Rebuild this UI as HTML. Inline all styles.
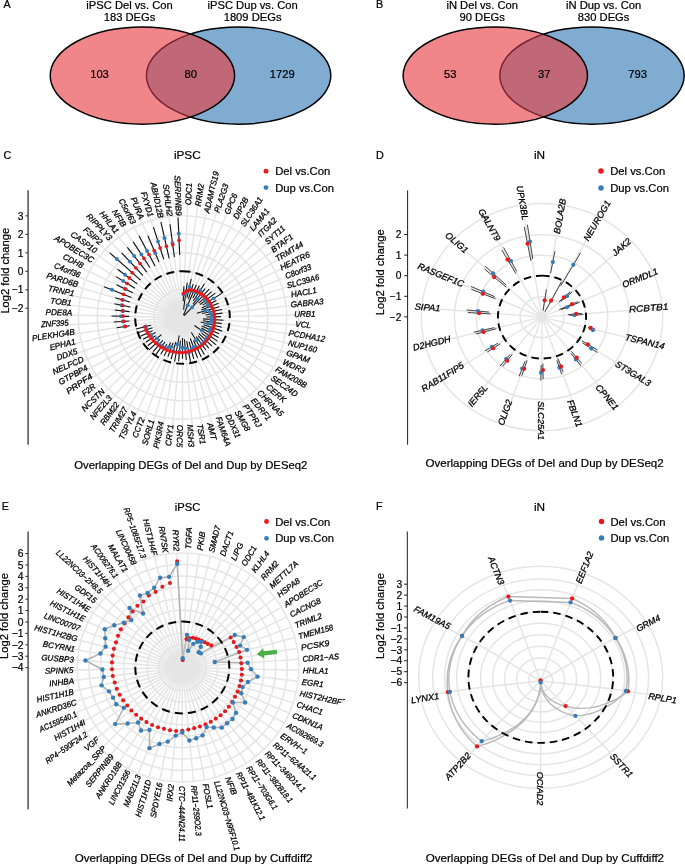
<!DOCTYPE html>
<html><head><meta charset="utf-8"><title>Figure</title>
<style>html,body{margin:0;padding:0;background:#fff}svg{display:block}text{stroke:#000;stroke-width:0.22px;stroke-linejoin:round}text.g{stroke-width:0.28px}</style></head>
<body><svg width="685" height="865" viewBox="0 0 685 865" font-family="Liberation Sans, Arial, Helvetica, sans-serif">
<rect width="685" height="865" fill="#fff"/>
<text x="3.5" y="8" font-size="10.8" text-anchor="start" fill="#000">A</text>
<text x="376" y="8.2" font-size="10.8" text-anchor="start" fill="#000">B</text>
<text x="3.5" y="158.5" font-size="10.8" text-anchor="start" fill="#000">C</text>
<text x="376" y="158.5" font-size="10.8" text-anchor="start" fill="#000">D</text>
<text x="1.8" y="509.6" font-size="10.8" text-anchor="start" fill="#000">E</text>
<text x="376" y="510" font-size="10.8" text-anchor="start" fill="#000">F</text>
<clipPath id="cA"><ellipse cx="142.4" cy="75.6" rx="92.2" ry="48.6"/></clipPath>
<ellipse cx="238.6" cy="75.6" rx="92.2" ry="48.6" fill="#80acd2" stroke="#000" stroke-width="1.45"/>
<ellipse cx="142.4" cy="75.6" rx="92.2" ry="48.6" fill="#f0868a"/>
<ellipse cx="238.6" cy="75.6" rx="92.2" ry="48.6" fill="#c16878" stroke="#7d2230" stroke-width="1.45" clip-path="url(#cA)"/>
<ellipse cx="142.4" cy="75.6" rx="92.2" ry="48.6" fill="none" stroke="#000" stroke-width="1.45"/>
<text x="129.5" y="8.9" font-size="11.2" text-anchor="middle" fill="#000">iPSC Del vs. Con</text>
<text x="129.5" y="20.5" font-size="11.2" text-anchor="middle" fill="#000">183 DEGs</text>
<text x="252.6" y="8.9" font-size="11.2" text-anchor="middle" fill="#000">iPSC Dup vs. Con</text>
<text x="252.6" y="20.5" font-size="11.2" text-anchor="middle" fill="#000">1809 DEGs</text>
<text x="99.5" y="77.9" font-size="11.2" text-anchor="middle" fill="#000">103</text>
<text x="190.7" y="77.9" font-size="11.2" text-anchor="middle" fill="#000">80</text>
<text x="282.2" y="77.9" font-size="11.2" text-anchor="middle" fill="#000">1729</text>
<clipPath id="cB"><ellipse cx="495.3" cy="75.6" rx="92.2" ry="48.6"/></clipPath>
<ellipse cx="592" cy="75.6" rx="92.2" ry="48.6" fill="#80acd2" stroke="#000" stroke-width="1.45"/>
<ellipse cx="495.3" cy="75.6" rx="92.2" ry="48.6" fill="#f0868a"/>
<ellipse cx="592" cy="75.6" rx="92.2" ry="48.6" fill="#c16878" stroke="#7d2230" stroke-width="1.45" clip-path="url(#cB)"/>
<ellipse cx="495.3" cy="75.6" rx="92.2" ry="48.6" fill="none" stroke="#000" stroke-width="1.45"/>
<text x="482.2" y="8.9" font-size="11.2" text-anchor="middle" fill="#000">iN Del vs. Con</text>
<text x="482.2" y="20.5" font-size="11.2" text-anchor="middle" fill="#000">90 DEGs</text>
<text x="603.6" y="8.9" font-size="11.2" text-anchor="middle" fill="#000">iN Dup vs. Con</text>
<text x="603.6" y="20.5" font-size="11.2" text-anchor="middle" fill="#000">830 DEGs</text>
<text x="450.2" y="77.9" font-size="11.2" text-anchor="middle" fill="#000">53</text>
<text x="544.3" y="77.9" font-size="11.2" text-anchor="middle" fill="#000">37</text>
<text x="637.6" y="77.9" font-size="11.2" text-anchor="middle" fill="#000">793</text>
<g fill="none" stroke="#e5e5e5">
<path d="M182.5 317.5L187.64 203.11M182.5 317.5L197.88 204.01M182.5 317.5L208 205.79M182.5 317.5L217.92 208.45M182.5 317.5L227.57 211.96M182.5 317.5L236.86 216.3M182.5 317.5L245.72 221.43M182.5 317.5L254.1 227.31M182.5 317.5L261.91 233.89M182.5 317.5L269.1 241.14M182.5 317.5L275.61 248.97M182.5 317.5L281.39 257.35M182.5 317.5L286.4 266.2M182.5 317.5L290.59 275.44M182.5 317.5L293.94 285.02M182.5 317.5L296.42 294.85M182.5 317.5L298.01 304.86M182.5 317.5L298.69 314.97M182.5 317.5L298.46 325.09M182.5 317.5L297.33 335.16M182.5 317.5L295.29 345.09M182.5 317.5L292.38 354.8M182.5 317.5L288.6 364.23M182.5 317.5L283.99 373.28M182.5 317.5L278.59 381.9M182.5 317.5L272.44 390.02M182.5 317.5L265.58 397.56M182.5 317.5L258.07 404.48M182.5 317.5L249.98 410.72M182.5 317.5L241.35 416.24M182.5 317.5L232.26 420.97M182.5 317.5L222.79 424.9M182.5 317.5L212.99 427.99M182.5 317.5L202.96 430.21M182.5 317.5L192.77 431.55M182.5 317.5L182.5 432M182.5 317.5L172.23 431.55M182.5 317.5L162.04 430.21M182.5 317.5L152.01 427.99M182.5 317.5L142.21 424.9M182.5 317.5L132.74 420.97M182.5 317.5L123.65 416.24M182.5 317.5L115.02 410.72M182.5 317.5L106.93 404.48M182.5 317.5L99.42 397.56M182.5 317.5L92.56 390.02M182.5 317.5L86.41 381.9M182.5 317.5L81.01 373.28M182.5 317.5L76.4 364.23M182.5 317.5L72.62 354.8M182.5 317.5L69.71 345.09M182.5 317.5L67.67 335.16M182.5 317.5L66.54 325.09M182.5 317.5L66.31 314.97M182.5 317.5L66.99 304.86M182.5 317.5L68.58 294.85M182.5 317.5L71.06 285.02M182.5 317.5L74.41 275.44M182.5 317.5L78.6 266.2M182.5 317.5L83.61 257.35M182.5 317.5L89.39 248.97M182.5 317.5L95.9 241.14M182.5 317.5L103.09 233.89M182.5 317.5L110.9 227.31M182.5 317.5L119.28 221.43M182.5 317.5L128.14 216.3M182.5 317.5L137.43 211.96M182.5 317.5L147.08 208.45M182.5 317.5L157 205.79M182.5 317.5L167.12 204.01M182.5 317.5L177.36 203.11" stroke-width="1.45"/>
<ellipse cx="182.5" cy="317.5" rx="9.63" ry="9.4" stroke-width="1.5"/>
<ellipse cx="182.5" cy="317.5" rx="28.55" ry="27.85" stroke-width="1.5"/>
<ellipse cx="182.5" cy="317.5" rx="47.46" ry="46.3" stroke-width="1.5"/>
<ellipse cx="182.5" cy="317.5" rx="66.37" ry="64.75" stroke-width="1.5"/>
<ellipse cx="182.5" cy="317.5" rx="85.28" ry="83.2" stroke-width="1.5"/>
<ellipse cx="182.5" cy="317.5" rx="104.19" ry="101.65" stroke-width="1.5"/>
<ellipse cx="182.5" cy="317.5" rx="116.22" ry="114.5" stroke-width="1.5"/>
</g>
<path d="M183.22 301.27L183.89 286.24M183.56 309.57L187.17 282.71M186.99 297.62L191.22 278.92M188.39 299.2L193.22 284.18M183.47 315.2L196.32 284.82M192.89 297.96L199.35 285.82M193.26 300.98L204.48 283.77M192.89 304.28L205.14 288.69M184.22 315.67L209.18 289.13M198.69 303.08L211.64 291.55M200.03 304.47L215.25 293.15M202.6 305.15L221.78 293.37M201.74 307.91L216.37 300.61M201.4 310.07L218.52 303.35M196.85 313.28L219.31 306.66M202.04 313.58L222.11 309.55M205.36 314.97L222.47 313.08M206.58 316.97L220.92 316.65M202.92 318.85L223.49 320.21M202.93 320.67L221.79 323.6M200.64 321.98L221.79 327.21M203.52 324.71L222.22 331.12M201.7 326.04L218.97 333.72M201.42 328L218.51 337.49M194.38 325.54L217.41 341.13M201.72 333.15L216.07 344.84M198.75 333.31L212.01 346.22M198.16 335.7L208.76 348.03M196.16 336.56L205.79 350M191.35 332.5L204.38 354.57M193.49 340.58L201.27 356.91M190.28 338.44L197.5 357.9M189.14 341.8L193.78 358.79M186.73 341.05L190.49 361.95M184.43 339.19L186.29 360.05M182.5 337.99L182.5 358.74M180.44 340.64L178.61 361.12M179.26 335.51L174.59 361.49M175.84 341.87L171.12 359.13M173.07 342.9L167.91 356.79M170.55 342.6L164.22 355.88M166.87 343.99L160.76 354.34M165.01 341.91L155.73 354.86M162.86 340.33L153.22 351.53M159.96 339.44L149.18 349.92M161.5 334.6L147.76 345.79M155.52 335.76L145.82 342.33M155.53 332.47L143.19 339.32M152.57 330.81L141.01 335.95M152.47 327.8L138.83 332.47M151.04 325.27L136.11 328.96M129.87 325.68L116.76 327.71M129.35 321.02L113.79 322.04M129.25 316.33L111.52 315.94M129.56 311.65L114.74 310.01M130.29 307.02L114.43 303.83M129.86 302L115.18 297.69M131.39 297.42L104.11 286.7M132.69 292.66L116.64 284.65M134.97 288.3L116 276.65M137.25 283.86L117.61 269.27M140.62 280.2L109.85 252.8M142.8 275.28L121.67 252.82M146.86 272.16L127.36 247.35M149.94 267.53L133.22 241.87M155.07 265.92L138.98 235.66M158.99 261.91L147.9 235.67M163.78 259.29L153.44 227.13M169.15 258.44L160.95 222.15M174.4 257.15L169.98 224.23M179.72 254.91L178.05 217.41" stroke="#111" stroke-width="1.1" fill="none"/>
<ellipse cx="182.5" cy="317.5" rx="46.3" ry="47.3" fill="none" stroke="#000" stroke-width="2.0" stroke-dasharray="8 5.2" transform="rotate(-90 182.5 317.5)"/>
<g fill="#377eb8"><circle cx="183.52" cy="294.52" r="1.95"/><circle cx="185.69" cy="293.71" r="1.95"/><circle cx="189.42" cy="286.87" r="1.95"/><circle cx="191" cy="291.07" r="1.95"/><circle cx="187.72" cy="305.15" r="1.95"/><circle cx="195.93" cy="292.26" r="1.95"/><circle cx="200.27" cy="290.23" r="1.95"/><circle cx="197.3" cy="298.67" r="1.95"/><circle cx="191.98" cy="307.42" r="1.95"/><circle cx="204.67" cy="297.76" r="1.95"/><circle cx="205.04" cy="300.74" r="1.95"/><circle cx="213.71" cy="298.33" r="1.95"/><circle cx="207.66" cy="304.95" r="1.95"/><circle cx="210.82" cy="306.37" r="1.95"/><circle cx="205.44" cy="310.75" r="1.95"/><circle cx="209.79" cy="312.02" r="1.95"/><circle cx="211.67" cy="314.28" r="1.95"/><circle cx="213.65" cy="316.81" r="1.95"/><circle cx="211.08" cy="319.39" r="1.95"/><circle cx="211.79" cy="322.05" r="1.95"/><circle cx="207.96" cy="323.79" r="1.95"/><circle cx="212.55" cy="327.8" r="1.95"/><circle cx="209.84" cy="329.66" r="1.95"/><circle cx="210.53" cy="333.06" r="1.95"/><circle cx="201.86" cy="330.61" r="1.95"/><circle cx="206.84" cy="337.32" r="1.95"/><circle cx="205.78" cy="340.16" r="1.95"/><circle cx="203.67" cy="342.11" r="1.95"/><circle cx="201.61" cy="344.17" r="1.95"/><circle cx="195.94" cy="340.27" r="1.95"/><circle cx="196.75" cy="347.42" r="1.95"/><circle cx="193.4" cy="346.86" r="1.95"/><circle cx="191.32" cy="349.79" r="1.95"/><circle cx="188.83" cy="352.74" r="1.95"/><circle cx="185.26" cy="348.48" r="1.95"/><circle cx="182.5" cy="347.5" r="1.95"/><circle cx="179.46" cy="351.57" r="1.95"/><circle cx="177.67" cy="344.37" r="1.95"/><circle cx="173.38" cy="350.89" r="1.95"/><circle cx="171.7" cy="346.58" r="1.95"/><circle cx="168.21" cy="347.5" r="1.95"/><circle cx="164.59" cy="347.85" r="1.95"/><circle cx="162.31" cy="345.67" r="1.95"/><circle cx="159.23" cy="344.54" r="1.95"/><circle cx="156.7" cy="342.61" r="1.95"/><circle cx="156.91" cy="338.34" r="1.95"/><circle cx="152.13" cy="338.05" r="1.95"/><circle cx="151.17" cy="334.89" r="1.95"/><circle cx="148.39" cy="332.67" r="1.95"/><circle cx="146.88" cy="329.71" r="1.95"/><circle cx="146.12" cy="326.49" r="1.95"/><circle cx="124.41" cy="326.52" r="1.95"/><circle cx="122.83" cy="321.45" r="1.95"/><circle cx="120.91" cy="316.14" r="1.95"/><circle cx="123.07" cy="310.93" r="1.95"/><circle cx="121.42" cy="305.24" r="1.95"/><circle cx="122.75" cy="299.91" r="1.95"/><circle cx="111.93" cy="289.77" r="1.95"/><circle cx="125.9" cy="289.27" r="1.95"/><circle cx="123.15" cy="281.04" r="1.95"/><circle cx="125.01" cy="274.77" r="1.95"/><circle cx="116.83" cy="259.01" r="1.95"/><circle cx="129.97" cy="261.64" r="1.95"/><circle cx="134.21" cy="256.06" r="1.95"/><circle cx="141.39" cy="254.4" r="1.95"/><circle cx="147.1" cy="250.94" r="1.95"/><circle cx="155.3" cy="253.16" r="1.95"/><circle cx="158.05" cy="241.5" r="1.95"/><circle cx="164.59" cy="238.28" r="1.95"/><circle cx="172.5" cy="242.96" r="1.95"/><circle cx="178.76" cy="233.48" r="1.95"/></g>
<g fill="#e41a1c"><circle cx="183.57" cy="293.52" r="1.85"/><circle cx="186.02" cy="291.23" r="1.85"/><circle cx="188.72" cy="289.99" r="1.85"/><circle cx="191.31" cy="290.12" r="1.85"/><circle cx="193.92" cy="290.49" r="1.85"/><circle cx="196.4" cy="291.37" r="1.85"/><circle cx="198.8" cy="292.48" r="1.85"/><circle cx="201.12" cy="293.81" r="1.85"/><circle cx="203.33" cy="295.35" r="1.85"/><circle cx="205.41" cy="297.09" r="1.85"/><circle cx="207.28" cy="299.08" r="1.85"/><circle cx="208.97" cy="301.24" r="1.85"/><circle cx="210.46" cy="303.55" r="1.85"/><circle cx="211.76" cy="306" r="1.85"/><circle cx="212.83" cy="308.57" r="1.85"/><circle cx="213.68" cy="311.24" r="1.85"/><circle cx="214.29" cy="313.99" r="1.85"/><circle cx="214.65" cy="316.79" r="1.85"/><circle cx="214.75" cy="319.63" r="1.85"/><circle cx="214.58" cy="322.48" r="1.85"/><circle cx="214.17" cy="325.32" r="1.85"/><circle cx="213.5" cy="328.13" r="1.85"/><circle cx="212.57" cy="330.88" r="1.85"/><circle cx="211.4" cy="333.54" r="1.85"/><circle cx="210" cy="336.11" r="1.85"/><circle cx="208.36" cy="338.55" r="1.85"/><circle cx="206.5" cy="340.85" r="1.85"/><circle cx="204.44" cy="343.01" r="1.85"/><circle cx="202.2" cy="344.98" r="1.85"/><circle cx="199.77" cy="346.76" r="1.85"/><circle cx="197.18" cy="348.33" r="1.85"/><circle cx="194.45" cy="349.66" r="1.85"/><circle cx="191.59" cy="350.76" r="1.85"/><circle cx="188.63" cy="351.6" r="1.85"/><circle cx="185.59" cy="352.19" r="1.85"/><circle cx="182.5" cy="352.5" r="1.85"/><circle cx="179.37" cy="352.56" r="1.85"/><circle cx="176.24" cy="352.35" r="1.85"/><circle cx="173.11" cy="351.85" r="1.85"/><circle cx="170.03" cy="351.08" r="1.85"/><circle cx="167.01" cy="350.03" r="1.85"/><circle cx="164.08" cy="348.72" r="1.85"/><circle cx="161.26" cy="347.14" r="1.85"/><circle cx="158.58" cy="345.3" r="1.85"/><circle cx="155.98" cy="343.31" r="1.85"/><circle cx="153.55" cy="341.08" r="1.85"/><circle cx="151.3" cy="338.62" r="1.85"/><circle cx="149.27" cy="335.94" r="1.85"/><circle cx="147.48" cy="333.08" r="1.85"/><circle cx="145.93" cy="330.04" r="1.85"/><circle cx="144.66" cy="326.85" r="1.85"/><circle cx="125.5" cy="326.35" r="1.85"/><circle cx="123.94" cy="321.37" r="1.85"/><circle cx="123.02" cy="316.19" r="1.85"/><circle cx="122.57" cy="310.88" r="1.85"/><circle cx="122.6" cy="305.47" r="1.85"/><circle cx="122.27" cy="299.77" r="1.85"/><circle cx="123.52" cy="294.32" r="1.85"/><circle cx="125" cy="288.82" r="1.85"/><circle cx="127.17" cy="283.51" r="1.85"/><circle cx="129.28" cy="277.94" r="1.85"/><circle cx="132.18" cy="272.68" r="1.85"/><circle cx="135.81" cy="267.85" r="1.85"/><circle cx="140.09" cy="263.54" r="1.85"/><circle cx="144.01" cy="258.43" r="1.85"/><circle cx="148.98" cy="254.48" r="1.85"/><circle cx="154.21" cy="250.58" r="1.85"/><circle cx="160.14" cy="247.97" r="1.85"/><circle cx="166.38" cy="246.18" r="1.85"/><circle cx="172.71" cy="244.55" r="1.85"/><circle cx="179.06" cy="240.28" r="1.85"/></g>
<text class="g" transform="translate(188.59,194.07) rotate(-87.15)" y="2.91" font-size="8.3" font-style="italic" text-anchor="middle" textLength="22.32" lengthAdjust="spacingAndGlyphs">ODC1</text>
<text class="g" transform="translate(199.46,194.97) rotate(-82.06)" y="2.91" font-size="8.3" font-style="italic" text-anchor="middle" textLength="22.78" lengthAdjust="spacingAndGlyphs">RRM2</text>
<text class="g" transform="translate(211.29,192.17) rotate(-76.96)" y="2.91" font-size="8.3" font-style="italic" text-anchor="middle" textLength="42.34" lengthAdjust="spacingAndGlyphs">ADAMTS19</text>
<text class="g" transform="translate(221.24,198.13) rotate(-71.86)" y="2.91" font-size="8.3" font-style="italic" text-anchor="middle" textLength="29.9" lengthAdjust="spacingAndGlyphs">PLA2G3</text>
<text class="g" transform="translate(230.81,203.84) rotate(-66.77)" y="2.91" font-size="8.3" font-style="italic" text-anchor="middle" textLength="21.86" lengthAdjust="spacingAndGlyphs">GPC6</text>
<text class="g" transform="translate(240.77,208.21) rotate(-61.67)" y="2.91" font-size="8.3" font-style="italic" text-anchor="middle" textLength="23.25" lengthAdjust="spacingAndGlyphs">DIP2B</text>
<text class="g" transform="translate(251.53,211.65) rotate(-56.58)" y="2.91" font-size="8.3" font-style="italic" text-anchor="middle" textLength="33.32" lengthAdjust="spacingAndGlyphs">SLC36A1</text>
<text class="g" transform="translate(259.49,219.45) rotate(-51.48)" y="2.91" font-size="8.3" font-style="italic" text-anchor="middle" textLength="26.48" lengthAdjust="spacingAndGlyphs">LAMA1</text>
<text class="g" transform="translate(267.22,227.17) rotate(-46.39)" y="2.91" font-size="8.3" font-style="italic" text-anchor="middle" textLength="23.25" lengthAdjust="spacingAndGlyphs">ITGA2</text>
<text class="g" transform="translate(274.9,234.84) rotate(-41.29)" y="2.91" font-size="8.3" font-style="italic" text-anchor="middle" textLength="23.9" lengthAdjust="spacingAndGlyphs">SYT11</text>
<text class="g" transform="translate(281.98,243.09) rotate(-36.19)" y="2.91" font-size="8.3" font-style="italic" text-anchor="middle">BTAF1</text>
<text class="g" transform="translate(289.28,251.37) rotate(-31.1)" y="2.91" font-size="8.3" font-style="italic" text-anchor="middle" textLength="30.8" lengthAdjust="spacingAndGlyphs">TRMT44</text>
<text class="g" transform="translate(294.85,260.85) rotate(-26)" y="2.91" font-size="8.3" font-style="italic" text-anchor="middle">HEATR6</text>
<text class="g" transform="translate(298.18,271.35) rotate(-20.91)" y="2.91" font-size="8.3" font-style="italic" text-anchor="middle" textLength="27.31" lengthAdjust="spacingAndGlyphs">C8orf33</text>
<text class="g" transform="translate(303.09,281.26) rotate(-15.81)" y="2.91" font-size="8.3" font-style="italic" text-anchor="middle" textLength="33.32" lengthAdjust="spacingAndGlyphs">SLC39A6</text>
<text class="g" transform="translate(303.85,292.32) rotate(-10.72)" y="2.91" font-size="8.3" font-style="italic" text-anchor="middle" textLength="26.02" lengthAdjust="spacingAndGlyphs">HACL1</text>
<text class="g" transform="translate(307.13,302.88) rotate(-5.62)" y="2.91" font-size="8.3" font-style="italic" text-anchor="middle" textLength="32.94" lengthAdjust="spacingAndGlyphs">GABRA3</text>
<text class="g" transform="translate(304.85,313.89) rotate(-0.52)" y="2.91" font-size="8.3" font-style="italic" text-anchor="middle" textLength="21.4" lengthAdjust="spacingAndGlyphs">URB1</text>
<text class="g" transform="translate(303.15,324.53) rotate(4.57)" y="2.91" font-size="8.3" font-style="italic" text-anchor="middle">VCL</text>
<text class="g" transform="translate(306.91,335.94) rotate(9.67)" y="2.91" font-size="8.3" font-style="italic" text-anchor="middle" textLength="36.81" lengthAdjust="spacingAndGlyphs">PCDHA12</text>
<text class="g" transform="translate(302.69,346.29) rotate(14.76)" y="2.91" font-size="8.3" font-style="italic" text-anchor="middle" textLength="29.16" lengthAdjust="spacingAndGlyphs">NUP160</text>
<text class="g" transform="translate(298.29,356.31) rotate(19.86)" y="2.91" font-size="8.3" font-style="italic" text-anchor="middle" textLength="24.44" lengthAdjust="spacingAndGlyphs">GPAM</text>
<text class="g" transform="translate(293.95,366.23) rotate(24.95)" y="2.91" font-size="8.3" font-style="italic" text-anchor="middle" textLength="23.7" lengthAdjust="spacingAndGlyphs">WDR3</text>
<text class="g" transform="translate(291.28,377.18) rotate(30.05)" y="2.91" font-size="8.3" font-style="italic" text-anchor="middle" textLength="34.69" lengthAdjust="spacingAndGlyphs">FAM208B</text>
<text class="g" transform="translate(284.47,385.92) rotate(35.15)" y="2.91" font-size="8.3" font-style="italic" text-anchor="middle" textLength="30.82" lengthAdjust="spacingAndGlyphs">SEC24D</text>
<text class="g" transform="translate(276.21,393.34) rotate(40.24)" y="2.91" font-size="8.3" font-style="italic" text-anchor="middle">CERK</text>
<text class="g" transform="translate(270.61,403.09) rotate(45.34)" y="2.91" font-size="8.3" font-style="italic" text-anchor="middle" textLength="33.39" lengthAdjust="spacingAndGlyphs">CHRNA5</text>
<text class="g" transform="translate(261.24,409.14) rotate(50.43)" y="2.91" font-size="8.3" font-style="italic" text-anchor="middle" textLength="26.47" lengthAdjust="spacingAndGlyphs">EDRF1</text>
<text class="g" transform="translate(252.44,415.64) rotate(55.53)" y="2.91" font-size="8.3" font-style="italic" text-anchor="middle">PTPRJ</text>
<text class="g" transform="translate(242.68,420.61) rotate(60.63)" y="2.91" font-size="8.3" font-style="italic" text-anchor="middle" textLength="22.78" lengthAdjust="spacingAndGlyphs">SMG8</text>
<text class="g" transform="translate(233.21,426.05) rotate(65.72)" y="2.91" font-size="8.3" font-style="italic" text-anchor="middle" textLength="25.28" lengthAdjust="spacingAndGlyphs">DDX31</text>
<text class="g" transform="translate(223.48,431.36) rotate(70.82)" y="2.91" font-size="8.3" font-style="italic" text-anchor="middle" textLength="30.81" lengthAdjust="spacingAndGlyphs">FAM64A</text>
<text class="g" transform="translate(212.04,431.27) rotate(75.91)" y="2.91" font-size="8.3" font-style="italic" text-anchor="middle">AMT</text>
<text class="g" transform="translate(201.59,434.14) rotate(81.01)" y="2.91" font-size="8.3" font-style="italic" text-anchor="middle" textLength="20.48" lengthAdjust="spacingAndGlyphs">TSR1</text>
<text class="g" transform="translate(190.83,435.8) rotate(86.1)" y="2.91" font-size="8.3" font-style="italic" text-anchor="middle" textLength="22.32" lengthAdjust="spacingAndGlyphs">MSH3</text>
<text class="g" transform="translate(179.93,436.05) rotate(91.2)" y="2.91" font-size="8.3" font-style="italic" text-anchor="middle" textLength="22.32" lengthAdjust="spacingAndGlyphs">ORC5</text>
<text class="g" transform="translate(169.29,435.14) rotate(-83.8)" y="2.91" font-size="8.3" font-style="italic" text-anchor="middle">CRY1</text>
<text class="g" transform="translate(158.47,434.95) rotate(-78.8)" y="2.91" font-size="8.3" font-style="italic" text-anchor="middle" textLength="27.13" lengthAdjust="spacingAndGlyphs">PIK3R4</text>
<text class="g" transform="translate(148.02,432.27) rotate(-73.81)" y="2.91" font-size="8.3" font-style="italic" text-anchor="middle" textLength="26.48" lengthAdjust="spacingAndGlyphs">SORL1</text>
<text class="g" transform="translate(138.31,427.57) rotate(-68.81)" y="2.91" font-size="8.3" font-style="italic" text-anchor="middle" textLength="20.94" lengthAdjust="spacingAndGlyphs">CCT2</text>
<text class="g" transform="translate(127.53,425.41) rotate(-63.81)" y="2.91" font-size="8.3" font-style="italic" text-anchor="middle" textLength="30.17" lengthAdjust="spacingAndGlyphs">TSPYL4</text>
<text class="g" transform="translate(118.28,419.8) rotate(-58.81)" y="2.91" font-size="8.3" font-style="italic" text-anchor="middle" textLength="28.04" lengthAdjust="spacingAndGlyphs">TRIM27</text>
<text class="g" transform="translate(109.56,413.51) rotate(-53.82)" y="2.91" font-size="8.3" font-style="italic" text-anchor="middle" textLength="26.2" lengthAdjust="spacingAndGlyphs">RBM22</text>
<text class="g" transform="translate(100.74,407.42) rotate(-48.85)" y="2.91" font-size="8.3" font-style="italic" text-anchor="middle" textLength="28.97" lengthAdjust="spacingAndGlyphs">NFE2L3</text>
<text class="g" transform="translate(93.01,400.01) rotate(-43.88)" y="2.91" font-size="8.3" font-style="italic" text-anchor="middle">NCSTN</text>
<text class="g" transform="translate(88.55,389.89) rotate(-38.91)" y="2.91" font-size="8.3" font-style="italic" text-anchor="middle" textLength="14.94" lengthAdjust="spacingAndGlyphs">F2R</text>
<text class="g" transform="translate(79.21,383.68) rotate(-33.94)" y="2.91" font-size="8.3" font-style="italic" text-anchor="middle" textLength="30" lengthAdjust="spacingAndGlyphs">PRPF4</text>
<text class="g" transform="translate(73.14,374.82) rotate(-28.97)" y="2.91" font-size="8.3" font-style="italic" text-anchor="middle" textLength="32.01" lengthAdjust="spacingAndGlyphs">GTPBP4</text>
<text class="g" transform="translate(68.03,365.36) rotate(-24)" y="2.91" font-size="8.3" font-style="italic" text-anchor="middle">NELFCD</text>
<text class="g" transform="translate(66.83,354.37) rotate(-19.01)" y="2.91" font-size="8.3" font-style="italic" text-anchor="middle" textLength="21.4" lengthAdjust="spacingAndGlyphs">DDX5</text>
<text class="g" transform="translate(62.52,344.43) rotate(-13.94)" y="2.91" font-size="8.3" font-style="italic" text-anchor="middle" textLength="26.48" lengthAdjust="spacingAndGlyphs">EPHA1</text>
<text class="g" transform="translate(53.29,334.94) rotate(-8.87)" y="2.91" font-size="8.3" font-style="italic" text-anchor="middle" textLength="43.09" lengthAdjust="spacingAndGlyphs">PLEKHG4B</text>
<text class="g" transform="translate(54.84,323.39) rotate(-3.8)" y="2.91" font-size="8.3" font-style="italic" text-anchor="middle" textLength="27.77" lengthAdjust="spacingAndGlyphs">ZNF395</text>
<text class="g" transform="translate(58.91,312.3) rotate(1.27)" y="2.91" font-size="8.3" font-style="italic" text-anchor="middle" textLength="26.48" lengthAdjust="spacingAndGlyphs">PDE8A</text>
<text class="g" transform="translate(61.01,301.67) rotate(6.34)" y="2.91" font-size="8.3" font-style="italic" text-anchor="middle">TOB1</text>
<text class="g" transform="translate(61.32,290.84) rotate(11.41)" y="2.91" font-size="8.3" font-style="italic" text-anchor="middle" textLength="26.47" lengthAdjust="spacingAndGlyphs">TRNP1</text>
<text class="g" transform="translate(62.52,279.93) rotate(16.48)" y="2.91" font-size="8.3" font-style="italic" text-anchor="middle">PARD6B</text>
<text class="g" transform="translate(67.33,270.07) rotate(21.55)" y="2.91" font-size="8.3" font-style="italic" text-anchor="middle" textLength="27.31" lengthAdjust="spacingAndGlyphs">C4orf36</text>
<text class="g" transform="translate(73.21,260.9) rotate(26.62)" y="2.91" font-size="8.3" font-style="italic" text-anchor="middle" textLength="21.86" lengthAdjust="spacingAndGlyphs">CDH8</text>
<text class="g" transform="translate(74.26,248.93) rotate(31.7)" y="2.91" font-size="8.3" font-style="italic" text-anchor="middle" textLength="44.47" lengthAdjust="spacingAndGlyphs">APOBEC3C</text>
<text class="g" transform="translate(84.01,242.19) rotate(36.81)" y="2.91" font-size="8.3" font-style="italic" text-anchor="middle" textLength="30.36" lengthAdjust="spacingAndGlyphs">CASP10</text>
<text class="g" transform="translate(93.05,235.69) rotate(41.92)" y="2.91" font-size="8.3" font-style="italic" text-anchor="middle" textLength="22.33" lengthAdjust="spacingAndGlyphs">FSIP2</text>
<text class="g" transform="translate(99.36,226.85) rotate(47.03)" y="2.91" font-size="8.3" font-style="italic" text-anchor="middle">RIPPLY3</text>
<text class="g" transform="translate(109.39,222.15) rotate(52.14)" y="2.91" font-size="8.3" font-style="italic" text-anchor="middle" textLength="26.02" lengthAdjust="spacingAndGlyphs">HHLA1</text>
<text class="g" transform="translate(119.38,218.15) rotate(57.25)" y="2.91" font-size="8.3" font-style="italic" text-anchor="middle">NFIB</text>
<text class="g" transform="translate(127.47,211.28) rotate(62.35)" y="2.91" font-size="8.3" font-style="italic" text-anchor="middle" textLength="27.31" lengthAdjust="spacingAndGlyphs">C5orf63</text>
<text class="g" transform="translate(137.52,207.99) rotate(67.46)" y="2.91" font-size="8.3" font-style="italic" text-anchor="middle">PURA</text>
<text class="g" transform="translate(147.31,204.29) rotate(72.58)" y="2.91" font-size="8.3" font-style="italic" text-anchor="middle" textLength="26.01" lengthAdjust="spacingAndGlyphs">FXYD1</text>
<text class="g" transform="translate(157.13,200.14) rotate(77.7)" y="2.91" font-size="8.3" font-style="italic" text-anchor="middle" textLength="36.35" lengthAdjust="spacingAndGlyphs">ABHD12B</text>
<text class="g" transform="translate(167.84,200.13) rotate(82.82)" y="2.91" font-size="8.3" font-style="italic" text-anchor="middle" textLength="32.47" lengthAdjust="spacingAndGlyphs">SOHLH2</text>
<text class="g" transform="translate(178.15,195.5) rotate(87.94)" y="2.91" font-size="8.3" font-style="italic" text-anchor="middle" textLength="40.32" lengthAdjust="spacingAndGlyphs">SERPINB9</text>
<path d="M28.1 190.3V444.7" stroke="#333" stroke-width="1.3" fill="none"/>
<path d="M25.3 215.89H28.1M25.3 234.36H28.1M25.3 252.83H28.1M25.3 271.3H28.1M25.3 289.77H28.1M25.3 308.24H28.1" stroke="#333" stroke-width="1.0" fill="none"/>
<text x="23.5" y="219.56" font-size="10.2" text-anchor="end" fill="#000">3</text>
<text x="23.5" y="238.03" font-size="10.2" text-anchor="end" fill="#000">2</text>
<text x="23.5" y="256.5" font-size="10.2" text-anchor="end" fill="#000">1</text>
<text x="23.5" y="274.97" font-size="10.2" text-anchor="end" fill="#000">0</text>
<text x="23.5" y="293.44" font-size="10.2" text-anchor="end" fill="#000">−1</text>
<text x="23.5" y="311.91" font-size="10.2" text-anchor="end" fill="#000">−2</text>
<text x="0" y="0" font-size="11.2" text-anchor="middle" transform="translate(8.8,270.7) rotate(-90)" fill="#000">Log2 fold change</text>
<text x="187.3" y="159.3" font-size="11.75" text-anchor="middle" fill="#000">iPSC</text>
<circle cx="266" cy="171.2" r="2.45" fill="#e41a1c"/>
<circle cx="266" cy="187.6" r="2.45" fill="#377eb8"/>
<text x="275.2" y="175.2" font-size="11.25" text-anchor="start" fill="#000">Del vs.Con</text>
<text x="275.2" y="191.6" font-size="11.25" text-anchor="start" fill="#000">Dup vs.Con</text>
<text x="190.8" y="469.4" font-size="11.3" text-anchor="middle" fill="#000">Overlapping DEGs of Del and Dup by DESeq2</text>
<g fill="none" stroke="#e5e5e5">
<path d="M542 317.1L561.88 205.05M542 317.1L599.47 217.19M542 317.1L630.84 240.16M542 317.1L652.59 271.47M542 317.1L662.34 307.72M542 317.1L659.06 344.99M542 317.1L643.09 379.23M542 317.1L616.17 406.75M542 317.1L581.21 424.54M542 317.1L542 430.7M542 317.1L502.79 424.54M542 317.1L467.83 406.75M542 317.1L440.91 379.23M542 317.1L424.94 344.99M542 317.1L421.66 307.72M542 317.1L431.41 271.47M542 317.1L453.16 240.16M542 317.1L484.53 217.19M542 317.1L522.12 205.05" stroke-width="1.45"/>
<ellipse cx="542" cy="317.1" rx="21.9" ry="20.6" stroke-width="1.5"/>
<ellipse cx="542" cy="317.1" rx="43.8" ry="41.2" stroke-width="1.5"/>
<ellipse cx="542" cy="317.1" rx="65.69" ry="61.8" stroke-width="1.5"/>
<ellipse cx="542" cy="317.1" rx="87.59" ry="82.4" stroke-width="1.5"/>
<ellipse cx="542" cy="317.1" rx="120.76" ry="113.6" stroke-width="1.5"/>
</g>
<path d="M543.02 310.67L546.39 289.41M550.6 273.34L554.95 251.22M544.94 311.77L561.58 281.59M560.8 285.74L580.64 252.64M558.93 301.92L570.08 291.91M560.67 301.49L572.19 291.86M559.39 309.58L577.74 301.65M561.13 309.58L579.76 302.25M567.91 314.65L581.66 313.35M569.58 315.41L583.37 314.56M588.05 327.27L594.78 328.76M588.67 329.04L595.34 330.74M582.05 340.79L597.35 349.83M582.46 342.93L597.42 352.47M571.37 351.35L581.71 363.41M571.04 353.49L580.93 365.88M557.96 358.46L563.22 372.09M556.9 360.39L561.65 374.18M542.86 363.59L543.15 379.09M541.11 365.09L540.82 380.59M527.1 360.39L521.86 375.61M524.96 361.28L519.15 376.32M512.33 354.29L502.75 366.28M509.96 354.46L499.95 366.13M500.22 343.77L487.46 351.91M497.9 343.18L484.86 350.9M496.35 328.78L475.84 334.02M494.4 327.61L473.7 332.18M490.55 313.94L467.85 312.54M489.12 312.1L466.48 309.96M495.41 298.78L471.38 289.33M494.67 296.64L471.01 286.41M506.25 287.2L484.4 268.94M506.22 285.01L485.07 266.04M515.89 273.55L501.79 250.03M516.79 271.39L503.57 247.42M530.95 260.85L524.26 226.83M532.81 259.04L527.39 224.82" stroke="#111" stroke-width="0.8" fill="none"/>
<ellipse cx="542" cy="317.1" rx="41.5" ry="44.1" fill="none" stroke="#000" stroke-width="1.9" stroke-dasharray="7.5 5" transform="rotate(-90 542 317.1)"/>
<g fill="#377eb8"><circle cx="552.82" cy="262.03" r="2.1"/><circle cx="573.33" cy="264.84" r="2.1"/><circle cx="567.03" cy="296.17" r="2.1"/><circle cx="567.01" cy="307.27" r="2.1"/><circle cx="574.35" cy="315.11" r="2.1"/><circle cx="592.78" cy="330.09" r="2.1"/><circle cx="591.26" cy="348.54" r="2.1"/><circle cx="575.82" cy="359.49" r="2.1"/><circle cx="559.43" cy="367.71" r="2.1"/><circle cx="540.97" cy="372.69" r="2.1"/><circle cx="522.16" cy="368.52" r="2.1"/><circle cx="506.22" cy="358.82" r="2.1"/><circle cx="491.78" cy="346.8" r="2.1"/><circle cx="482.49" cy="330.24" r="2.1"/><circle cx="478.01" cy="311.05" r="2.1"/><circle cx="483.28" cy="291.71" r="2.1"/><circle cx="493.14" cy="273.28" r="2.1"/><circle cx="510.91" cy="260.73" r="2.1"/><circle cx="530.05" cy="241.63" r="2.1"/></g>
<g fill="#e41a1c"><circle cx="544.66" cy="300.29" r="2.1"/><circle cx="551.06" cy="300.68" r="2.1"/><circle cx="563.93" cy="297.43" r="2.1"/><circle cx="571.94" cy="304.15" r="2.1"/><circle cx="576.16" cy="313.87" r="2.1"/><circle cx="590.64" cy="327.84" r="2.1"/><circle cx="587.9" cy="344.24" r="2.1"/><circle cx="576.71" cy="357.57" r="2.1"/><circle cx="561.04" cy="366.45" r="2.1"/><circle cx="542.98" cy="369.99" r="2.1"/><circle cx="524.21" cy="368.76" r="2.1"/><circle cx="507.22" cy="360.69" r="2.1"/><circle cx="493.18" cy="348.26" r="2.1"/><circle cx="483.53" cy="332.05" r="2.1"/><circle cx="479.1" cy="313.24" r="2.1"/><circle cx="482.86" cy="293.85" r="2.1"/><circle cx="494.09" cy="277.04" r="2.1"/><circle cx="507.54" cy="259.61" r="2.1"/><circle cx="527.57" cy="243.64" r="2.1"/></g>
<text class="g" transform="translate(559.8,216.2) rotate(-79.94)" y="3.18" font-size="9.1" font-style="italic" text-anchor="middle">BOLA2B</text>
<text class="g" transform="translate(597,220.6) rotate(-60.09)" y="3.18" font-size="9.1" font-style="italic" text-anchor="middle">NEUROG1</text>
<text class="g" transform="translate(621.5,247) rotate(-40.89)" y="3.18" font-size="9.1" font-style="italic" text-anchor="middle">JAK2</text>
<text class="g" transform="translate(640,277.8) rotate(-22.42)" y="3.18" font-size="9.1" font-style="italic" text-anchor="middle">ORMDL1</text>
<text class="g" transform="translate(648.6,307.9) rotate(-4.46)" y="3.18" font-size="9.1" font-style="italic" text-anchor="middle" textLength="39.5" lengthAdjust="spacingAndGlyphs">RCBTB1</text>
<text class="g" transform="translate(644.9,341.6) rotate(13.4)" y="3.18" font-size="9.1" font-style="italic" text-anchor="middle" textLength="40.46" lengthAdjust="spacingAndGlyphs">TSPAN14</text>
<text class="g" transform="translate(633.2,373.5) rotate(31.58)" y="3.18" font-size="9.1" font-style="italic" text-anchor="middle">ST3GAL3</text>
<text class="g" transform="translate(607.2,397.2) rotate(50.4)" y="3.18" font-size="9.1" font-style="italic" text-anchor="middle">CPNE1</text>
<text class="g" transform="translate(574.8,413.4) rotate(69.95)" y="3.18" font-size="9.1" font-style="italic" text-anchor="middle">FBLN1</text>
<text class="g" transform="translate(541.5,420.7) rotate(90)" y="3.18" font-size="9.1" font-style="italic" text-anchor="middle">SLC25A1</text>
<text class="g" transform="translate(505,412.4) rotate(-69.95)" y="3.18" font-size="9.1" font-style="italic" text-anchor="middle">OLIG2</text>
<text class="g" transform="translate(477.6,395.7) rotate(-50.4)" y="3.18" font-size="9.1" font-style="italic" text-anchor="middle">IER5L</text>
<text class="g" transform="translate(442.6,377) rotate(-31.58)" y="3.18" font-size="9.1" font-style="italic" text-anchor="middle" textLength="48.05" lengthAdjust="spacingAndGlyphs">RAB11FIP5</text>
<text class="g" transform="translate(431.8,343.1) rotate(-13.4)" y="3.18" font-size="9.1" font-style="italic" text-anchor="middle">D2HGDH</text>
<text class="g" transform="translate(427.5,307.3) rotate(4.46)" y="3.18" font-size="9.1" font-style="italic" text-anchor="middle" textLength="25.8" lengthAdjust="spacingAndGlyphs">SIPA1</text>
<text class="g" transform="translate(441,275) rotate(22.42)" y="3.18" font-size="9.1" font-style="italic" text-anchor="middle">RASGEF1C</text>
<text class="g" transform="translate(456.8,242.6) rotate(40.89)" y="3.18" font-size="9.1" font-style="italic" text-anchor="middle">OLIG1</text>
<text class="g" transform="translate(489.5,224.7) rotate(60.09)" y="3.18" font-size="9.1" font-style="italic" text-anchor="middle">GALNT9</text>
<text class="g" transform="translate(522.6,202.9) rotate(79.94)" y="3.18" font-size="9.1" font-style="italic" text-anchor="middle">UPK3BL</text>
<path d="M407.6 190.4V444.7" stroke="#111" stroke-width="0.95" fill="none"/>
<path d="M404.2 234.5H407.6M404.2 255.1H407.6M404.2 275.7H407.6M404.2 296.3H407.6M404.2 316.9H407.6" stroke="#111" stroke-width="0.95" fill="none"/>
<text x="401.4" y="238.17" font-size="10.2" text-anchor="end" fill="#000">2</text>
<text x="401.4" y="258.77" font-size="10.2" text-anchor="end" fill="#000">1</text>
<text x="401.4" y="279.37" font-size="10.2" text-anchor="end" fill="#000">0</text>
<text x="401.4" y="299.97" font-size="10.2" text-anchor="end" fill="#000">−1</text>
<text x="401.4" y="320.57" font-size="10.2" text-anchor="end" fill="#000">−2</text>
<text x="0" y="0" font-size="11.2" text-anchor="middle" transform="translate(383.5,272.3) rotate(-90)" fill="#000">Log2 fold change</text>
<text x="539.5" y="158.8" font-size="11.8" text-anchor="middle" fill="#000">iN</text>
<circle cx="601" cy="171" r="2.75" fill="#e41a1c"/>
<circle cx="601" cy="188" r="2.75" fill="#377eb8"/>
<text x="610.2" y="175" font-size="11.25" text-anchor="start" fill="#000">Del vs.Con</text>
<text x="610.2" y="192" font-size="11.25" text-anchor="start" fill="#000">Dup vs.Con</text>
<text x="544.6" y="467" font-size="11.55" text-anchor="middle" fill="#000">Overlapping DEGs of Del and Dup by DESeq2</text>
<g fill="none" stroke="#e5e5e5">
<path d="M182.3 667.5L187.94 553.23M182.3 667.5L199.16 554.3M182.3 667.5L210.23 556.42M182.3 667.5L221.03 559.59M182.3 667.5L231.47 563.75M182.3 667.5L241.46 568.89M182.3 667.5L250.89 574.95M182.3 667.5L259.68 581.87M182.3 667.5L267.75 589.59M182.3 667.5L275.02 598.04M182.3 667.5L281.42 607.14M182.3 667.5L286.9 616.8M182.3 667.5L291.41 626.93M182.3 667.5L294.89 637.45M182.3 667.5L297.32 648.24M182.3 667.5L298.68 659.21M182.3 667.5L298.95 670.26M182.3 667.5L298.14 681.29M182.3 667.5L296.24 692.19M182.3 667.5L293.28 702.85M182.3 667.5L289.28 713.19M182.3 667.5L284.28 723.1M182.3 667.5L278.33 732.49M182.3 667.5L271.49 741.27M182.3 667.5L263.81 749.36M182.3 667.5L255.37 756.69M182.3 667.5L246.25 763.19M182.3 667.5L236.53 768.8M182.3 667.5L226.3 773.45M182.3 667.5L215.67 777.12M182.3 667.5L204.72 779.77M182.3 667.5L193.56 781.37M182.3 667.5L182.3 781.9M182.3 667.5L171.04 781.37M182.3 667.5L159.88 779.77M182.3 667.5L148.93 777.12M182.3 667.5L138.3 773.45M182.3 667.5L128.07 768.8M182.3 667.5L118.35 763.19M182.3 667.5L109.23 756.69M182.3 667.5L100.79 749.36M182.3 667.5L93.11 741.27M182.3 667.5L86.27 732.49M182.3 667.5L80.32 723.1M182.3 667.5L75.32 713.19M182.3 667.5L71.32 702.85M182.3 667.5L68.36 692.19M182.3 667.5L66.46 681.29M182.3 667.5L65.65 670.26M182.3 667.5L65.92 659.21M182.3 667.5L67.28 648.24M182.3 667.5L69.71 637.45M182.3 667.5L73.19 626.93M182.3 667.5L77.7 616.8M182.3 667.5L83.18 607.14M182.3 667.5L89.58 598.04M182.3 667.5L96.85 589.59M182.3 667.5L104.92 581.87M182.3 667.5L113.71 574.95M182.3 667.5L123.14 568.89M182.3 667.5L133.13 563.75M182.3 667.5L143.57 559.59M182.3 667.5L154.37 556.42M182.3 667.5L165.44 554.3M182.3 667.5L176.66 553.23" stroke-width="1.45"/>
<ellipse cx="182.3" cy="667.5" rx="11.94" ry="11.71" stroke-width="1.5"/>
<ellipse cx="182.3" cy="667.5" rx="23.58" ry="23.12" stroke-width="1.5"/>
<ellipse cx="182.3" cy="667.5" rx="35.22" ry="34.53" stroke-width="1.5"/>
<ellipse cx="182.3" cy="667.5" rx="46.86" ry="45.94" stroke-width="1.5"/>
<ellipse cx="182.3" cy="667.5" rx="58.5" ry="57.35" stroke-width="1.5"/>
<ellipse cx="182.3" cy="667.5" rx="70.14" ry="68.76" stroke-width="1.5"/>
<ellipse cx="182.3" cy="667.5" rx="81.77" ry="80.17" stroke-width="1.5"/>
<ellipse cx="182.3" cy="667.5" rx="93.41" ry="91.58" stroke-width="1.5"/>
<ellipse cx="182.3" cy="667.5" rx="105.05" ry="102.99" stroke-width="1.5"/>
<ellipse cx="182.3" cy="667.5" rx="116.69" ry="114.4" stroke-width="1.5"/>
</g>
<path d="M182.75 658.21L187.04 635.04L189.07 640.02L188.17 650.8L193.3 643.83L197.36 641.9L201.05 641.69L200.73 646.69L198.63 652.31L200.81 653.35L234.71 634.94L243.79 637.1L240.08 645.59L247.04 649.87L214.73 661.96L247.63 662.76L250.98 669.16L257.55 676.64L247.92 682L242.6 687.09L241.25 693.18L245.14 702.44L232.91 702.44L236.03 712.83L232.52 718.95L227.07 723.25L221.7 727.64L213.76 727.45L206.55 727.05L202.54 735.34L196.15 738.26L189.38 740.56L182.3 732.5L175.7 735.58L167.79 741.59L159.45 744.06L149.46 748.17L149.54 729.92L141.03 730.49L138.09 722.55L127.61 723.53L115.19 724.12L123.87 707.83L116.23 704.24L113.08 697.65L108.97 691.33L101.55 685.35L103.78 677.03L102.42 669.43L85.46 660.47L100.39 653.51L105.69 646.64L105.25 638.28L104.85 629.21L114.26 625.24L123.82 622.81L131.33 620.1L129.58 607.99L143.09 613.54L139.92 595.44L147.66 592.95L154.22 587.7L160.16 577.69L169.06 576.86L177.28 563.72Z" stroke="#b4b4b4" stroke-width="1.6" fill="none" stroke-linejoin="round"/>
<path d="M182.66 660.11L186.45 639.1L189.53 638.18L192.79 637.69L195.78 638.48L198.67 639.66L201.64 640.88L204.65 642.28L207.71 643.87L211.22 645.4L230.63 637.48L233.67 642.11L236.53 646.93L239.13 652.03L240.56 657.55L241.34 663.21L241.88 668.94L241.86 674.73L240.98 680.47L239.65 686.13L237.67 691.62L235 696.8L232.17 701.92L228.85 706.77L225.05 711.29L220.62 715.22L215.78 718.61L210.74 721.69L205.45 724.37L199.89 726.43L194.17 728.15L188.31 729.51L182.3 730.9L176.14 731L170.02 730.21L164 728.83L157.98 727.24L152.14 724.97L146.51 722.12L141.22 718.65L136.13 714.8L131.4 710.45L127.24 705.5L123.22 700.35L119.77 694.74L116.87 688.76L114.73 682.43L112.81 675.94L112.02 669.2L111.99 662.39L112.61 655.6L113.89 648.87L116.01 642.36L118.03 635.72L120.88 629.35L124.61 623.42L128.41 617.38L132.7 611.51L137.45 605.77L143.47 601.47L148.8 595.4L155.68 591.85L162.41 586.81L169.96 583L177.17 561.42" stroke="#c4c4c4" stroke-width="0.8" fill="none" stroke-linejoin="round"/>
<ellipse cx="182.3" cy="667.5" rx="45.9" ry="47" fill="none" stroke="#000" stroke-width="2.0" stroke-dasharray="8 5.2" transform="rotate(-90 182.3 667.5)"/>
<g fill="#e41a1c"><circle cx="182.66" cy="660.11" r="2.05"/><circle cx="186.45" cy="639.1" r="2.05"/><circle cx="189.53" cy="638.18" r="2.05"/><circle cx="192.79" cy="637.69" r="2.05"/><circle cx="195.78" cy="638.48" r="2.05"/><circle cx="198.67" cy="639.66" r="2.05"/><circle cx="201.64" cy="640.88" r="2.05"/><circle cx="204.65" cy="642.28" r="2.05"/><circle cx="207.71" cy="643.87" r="2.05"/><circle cx="211.22" cy="645.4" r="2.05"/><circle cx="230.63" cy="637.48" r="2.05"/><circle cx="233.67" cy="642.11" r="2.05"/><circle cx="236.53" cy="646.93" r="2.05"/><circle cx="239.13" cy="652.03" r="2.05"/><circle cx="240.56" cy="657.55" r="2.05"/><circle cx="241.34" cy="663.21" r="2.05"/><circle cx="241.88" cy="668.94" r="2.05"/><circle cx="241.86" cy="674.73" r="2.05"/><circle cx="240.98" cy="680.47" r="2.05"/><circle cx="239.65" cy="686.13" r="2.05"/><circle cx="237.67" cy="691.62" r="2.05"/><circle cx="235" cy="696.8" r="2.05"/><circle cx="232.17" cy="701.92" r="2.05"/><circle cx="228.85" cy="706.77" r="2.05"/><circle cx="225.05" cy="711.29" r="2.05"/><circle cx="220.62" cy="715.22" r="2.05"/><circle cx="215.78" cy="718.61" r="2.05"/><circle cx="210.74" cy="721.69" r="2.05"/><circle cx="205.45" cy="724.37" r="2.05"/><circle cx="199.89" cy="726.43" r="2.05"/><circle cx="194.17" cy="728.15" r="2.05"/><circle cx="188.31" cy="729.51" r="2.05"/><circle cx="182.3" cy="730.9" r="2.05"/><circle cx="176.14" cy="731" r="2.05"/><circle cx="170.02" cy="730.21" r="2.05"/><circle cx="164" cy="728.83" r="2.05"/><circle cx="157.98" cy="727.24" r="2.05"/><circle cx="152.14" cy="724.97" r="2.05"/><circle cx="146.51" cy="722.12" r="2.05"/><circle cx="141.22" cy="718.65" r="2.05"/><circle cx="136.13" cy="714.8" r="2.05"/><circle cx="131.4" cy="710.45" r="2.05"/><circle cx="127.24" cy="705.5" r="2.05"/><circle cx="123.22" cy="700.35" r="2.05"/><circle cx="119.77" cy="694.74" r="2.05"/><circle cx="116.87" cy="688.76" r="2.05"/><circle cx="114.73" cy="682.43" r="2.05"/><circle cx="112.81" cy="675.94" r="2.05"/><circle cx="112.02" cy="669.2" r="2.05"/><circle cx="111.99" cy="662.39" r="2.05"/><circle cx="112.61" cy="655.6" r="2.05"/><circle cx="113.89" cy="648.87" r="2.05"/><circle cx="116.01" cy="642.36" r="2.05"/><circle cx="118.03" cy="635.72" r="2.05"/><circle cx="120.88" cy="629.35" r="2.05"/><circle cx="124.61" cy="623.42" r="2.05"/><circle cx="128.41" cy="617.38" r="2.05"/><circle cx="132.7" cy="611.51" r="2.05"/><circle cx="137.45" cy="605.77" r="2.05"/><circle cx="143.47" cy="601.47" r="2.05"/><circle cx="148.8" cy="595.4" r="2.05"/><circle cx="155.68" cy="591.85" r="2.05"/><circle cx="162.41" cy="586.81" r="2.05"/><circle cx="169.96" cy="583" r="2.05"/><circle cx="177.17" cy="561.42" r="2.05"/></g>
<g fill="#377eb8"><circle cx="182.75" cy="658.21" r="2.2"/><circle cx="187.04" cy="635.04" r="2.2"/><circle cx="189.07" cy="640.02" r="2.2"/><circle cx="188.17" cy="650.8" r="2.2"/><circle cx="193.3" cy="643.83" r="2.2"/><circle cx="197.36" cy="641.9" r="2.2"/><circle cx="201.05" cy="641.69" r="2.2"/><circle cx="200.73" cy="646.69" r="2.2"/><circle cx="198.63" cy="652.31" r="2.2"/><circle cx="200.81" cy="653.35" r="2.2"/><circle cx="234.71" cy="634.94" r="2.2"/><circle cx="243.79" cy="637.1" r="2.2"/><circle cx="240.08" cy="645.59" r="2.2"/><circle cx="247.04" cy="649.87" r="2.2"/><circle cx="214.73" cy="661.96" r="2.2"/><circle cx="247.63" cy="662.76" r="2.2"/><circle cx="250.98" cy="669.16" r="2.2"/><circle cx="257.55" cy="676.64" r="2.2"/><circle cx="247.92" cy="682" r="2.2"/><circle cx="242.6" cy="687.09" r="2.2"/><circle cx="241.25" cy="693.18" r="2.2"/><circle cx="245.14" cy="702.44" r="2.2"/><circle cx="232.91" cy="702.44" r="2.2"/><circle cx="236.03" cy="712.83" r="2.2"/><circle cx="232.52" cy="718.95" r="2.2"/><circle cx="227.07" cy="723.25" r="2.2"/><circle cx="221.7" cy="727.64" r="2.2"/><circle cx="213.76" cy="727.45" r="2.2"/><circle cx="206.55" cy="727.05" r="2.2"/><circle cx="202.54" cy="735.34" r="2.2"/><circle cx="196.15" cy="738.26" r="2.2"/><circle cx="189.38" cy="740.56" r="2.2"/><circle cx="182.3" cy="732.5" r="2.2"/><circle cx="175.7" cy="735.58" r="2.2"/><circle cx="167.79" cy="741.59" r="2.2"/><circle cx="159.45" cy="744.06" r="2.2"/><circle cx="149.46" cy="748.17" r="2.2"/><circle cx="149.54" cy="729.92" r="2.2"/><circle cx="141.03" cy="730.49" r="2.2"/><circle cx="138.09" cy="722.55" r="2.2"/><circle cx="127.61" cy="723.53" r="2.2"/><circle cx="115.19" cy="724.12" r="2.2"/><circle cx="123.87" cy="707.83" r="2.2"/><circle cx="116.23" cy="704.24" r="2.2"/><circle cx="113.08" cy="697.65" r="2.2"/><circle cx="108.97" cy="691.33" r="2.2"/><circle cx="101.55" cy="685.35" r="2.2"/><circle cx="103.78" cy="677.03" r="2.2"/><circle cx="102.42" cy="669.43" r="2.2"/><circle cx="85.46" cy="660.47" r="2.2"/><circle cx="100.39" cy="653.51" r="2.2"/><circle cx="105.69" cy="646.64" r="2.2"/><circle cx="105.25" cy="638.28" r="2.2"/><circle cx="104.85" cy="629.21" r="2.2"/><circle cx="114.26" cy="625.24" r="2.2"/><circle cx="123.82" cy="622.81" r="2.2"/><circle cx="131.33" cy="620.1" r="2.2"/><circle cx="129.58" cy="607.99" r="2.2"/><circle cx="143.09" cy="613.54" r="2.2"/><circle cx="139.92" cy="595.44" r="2.2"/><circle cx="147.66" cy="592.95" r="2.2"/><circle cx="154.22" cy="587.7" r="2.2"/><circle cx="160.16" cy="577.69" r="2.2"/><circle cx="169.06" cy="576.86" r="2.2"/><circle cx="177.28" cy="563.72" r="2.2"/></g>
<text class="g" transform="translate(188.65,538.22) rotate(-87.23)" y="2.87" font-size="8.2" font-style="italic" text-anchor="middle" textLength="21.87" lengthAdjust="spacingAndGlyphs">TGFA</text>
<text class="g" transform="translate(201.06,541) rotate(-81.69)" y="2.87" font-size="8.2" font-style="italic" text-anchor="middle">PKIB</text>
<text class="g" transform="translate(214.43,539.08) rotate(-76.15)" y="2.87" font-size="8.2" font-style="italic" text-anchor="middle" textLength="27.52" lengthAdjust="spacingAndGlyphs">SMAD7</text>
<text class="g" transform="translate(226.64,543.38) rotate(-70.62)" y="2.87" font-size="8.2" font-style="italic" text-anchor="middle" textLength="26.15" lengthAdjust="spacingAndGlyphs">DACT1</text>
<text class="g" transform="translate(237.02,551.56) rotate(-65.08)" y="2.87" font-size="8.2" font-style="italic" text-anchor="middle">LIPG</text>
<text class="g" transform="translate(248.98,555.85) rotate(-59.54)" y="2.87" font-size="8.2" font-style="italic" text-anchor="middle" textLength="22.05" lengthAdjust="spacingAndGlyphs">ODC1</text>
<text class="g" transform="translate(260.28,561.78) rotate(-54)" y="2.87" font-size="8.2" font-style="italic" text-anchor="middle" textLength="24.34" lengthAdjust="spacingAndGlyphs">KLHL4</text>
<text class="g" transform="translate(269.67,570.38) rotate(-48.46)" y="2.87" font-size="8.2" font-style="italic" text-anchor="middle" textLength="22.51" lengthAdjust="spacingAndGlyphs">RRM2</text>
<text class="g" transform="translate(283.79,574.48) rotate(-42.92)" y="2.87" font-size="8.2" font-style="italic" text-anchor="middle" textLength="36.18" lengthAdjust="spacingAndGlyphs">METTL7A</text>
<text class="g" transform="translate(288.44,587.61) rotate(-37.38)" y="2.87" font-size="8.2" font-style="italic" text-anchor="middle">HSPA8</text>
<text class="g" transform="translate(303.32,593.38) rotate(-31.85)" y="2.87" font-size="8.2" font-style="italic" text-anchor="middle" textLength="43.93" lengthAdjust="spacingAndGlyphs">APOBEC3C</text>
<text class="g" transform="translate(305.31,607.57) rotate(-26.31)" y="2.87" font-size="8.2" font-style="italic" text-anchor="middle" textLength="33.44" lengthAdjust="spacingAndGlyphs">CACNG8</text>
<text class="g" transform="translate(308.26,620.44) rotate(-20.77)" y="2.87" font-size="8.2" font-style="italic" text-anchor="middle" textLength="28.43" lengthAdjust="spacingAndGlyphs">TRIML2</text>
<text class="g" transform="translate(315.76,631.69) rotate(-15.23)" y="2.87" font-size="8.2" font-style="italic" text-anchor="middle" textLength="35.63" lengthAdjust="spacingAndGlyphs">TMEM158</text>
<text class="g" transform="translate(315.13,645.15) rotate(-9.69)" y="2.87" font-size="8.2" font-style="italic" text-anchor="middle" textLength="28.5" lengthAdjust="spacingAndGlyphs">PCSK9</text>
<text class="g" transform="translate(320.71,657.59) rotate(-4.15)" y="2.87" font-size="8.2" font-style="italic" text-anchor="middle" textLength="36.56" lengthAdjust="spacingAndGlyphs">CDR1−AS</text>
<text class="g" transform="translate(315.61,670.67) rotate(1.38)" y="2.87" font-size="8.2" font-style="italic" text-anchor="middle" textLength="25.71" lengthAdjust="spacingAndGlyphs">HHLA1</text>
<text class="g" transform="translate(312.64,683.09) rotate(6.92)" y="2.87" font-size="8.2" font-style="italic" text-anchor="middle" textLength="21.6" lengthAdjust="spacingAndGlyphs">EGR1</text>
<text class="g" transform="translate(320.83,697.68) rotate(12.46)" y="2.87" font-size="8.2" font-style="italic" text-anchor="middle" textLength="42.74" lengthAdjust="spacingAndGlyphs">HIST2H2BF</text>
<text class="g" transform="translate(309.77,708.3) rotate(18)" y="2.87" font-size="8.2" font-style="italic" text-anchor="middle" textLength="27.07" lengthAdjust="spacingAndGlyphs">CHAC1</text>
<text class="g" transform="translate(307.69,721.32) rotate(23.54)" y="2.87" font-size="8.2" font-style="italic" text-anchor="middle" textLength="32.54" lengthAdjust="spacingAndGlyphs">CDKN1A</text>
<text class="g" transform="translate(305.15,734.84) rotate(29.08)" y="2.87" font-size="8.2" font-style="italic" text-anchor="middle" textLength="40.12" lengthAdjust="spacingAndGlyphs">AC092669.3</text>
<text class="g" transform="translate(294.08,743.52) rotate(34.62)" y="2.87" font-size="8.2" font-style="italic" text-anchor="middle" textLength="30.64" lengthAdjust="spacingAndGlyphs">ERVH−1</text>
<text class="g" transform="translate(294.82,761.15) rotate(40.15)" y="2.87" font-size="8.2" font-style="italic" text-anchor="middle" textLength="53.44" lengthAdjust="spacingAndGlyphs">RP11−624A21.1</text>
<text class="g" transform="translate(285.29,771.58) rotate(45.69)" y="2.87" font-size="8.2" font-style="italic" text-anchor="middle" textLength="53.9" lengthAdjust="spacingAndGlyphs">RP11−346D14.1</text>
<text class="g" transform="translate(274.49,780.73) rotate(51.23)" y="2.87" font-size="8.2" font-style="italic" text-anchor="middle" textLength="53.44" lengthAdjust="spacingAndGlyphs">RP11−382B18.1</text>
<text class="g" transform="translate(262.18,787.75) rotate(56.77)" y="2.87" font-size="8.2" font-style="italic" text-anchor="middle" textLength="50.52" lengthAdjust="spacingAndGlyphs">RP11−703G6.1</text>
<text class="g" transform="translate(250.72,796.09) rotate(62.31)" y="2.87" font-size="8.2" font-style="italic" text-anchor="middle" textLength="53.44" lengthAdjust="spacingAndGlyphs">RP11−481K12.1</text>
<text class="g" transform="translate(231.26,785.9) rotate(67.85)" y="2.87" font-size="8.2" font-style="italic" text-anchor="middle">NFIB</text>
<text class="g" transform="translate(227.09,815.7) rotate(73.38)" y="2.87" font-size="8.2" font-style="italic" text-anchor="middle" textLength="72.31" lengthAdjust="spacingAndGlyphs">LL22NC03−N95F10.1</text>
<text class="g" transform="translate(207.88,796.18) rotate(78.92)" y="2.87" font-size="8.2" font-style="italic" text-anchor="middle" textLength="25.25" lengthAdjust="spacingAndGlyphs">FOSL1</text>
<text class="g" transform="translate(196.37,810.59) rotate(84.46)" y="2.87" font-size="8.2" font-style="italic" text-anchor="middle" textLength="50.52" lengthAdjust="spacingAndGlyphs">RP11−259O2.3</text>
<text class="g" transform="translate(182.3,813.76) rotate(90)" y="2.87" font-size="8.2" font-style="italic" text-anchor="middle" textLength="55.53" lengthAdjust="spacingAndGlyphs">CTC−444N24.11</text>
<text class="g" transform="translate(170.16,792.73) rotate(-84.46)" y="2.87" font-size="8.2" font-style="italic" text-anchor="middle" textLength="17.5" lengthAdjust="spacingAndGlyphs">IRX2</text>
<text class="g" transform="translate(156.29,800.34) rotate(-78.92)" y="2.87" font-size="8.2" font-style="italic" text-anchor="middle" textLength="35.46" lengthAdjust="spacingAndGlyphs">SPDYE16</text>
<text class="g" transform="translate(143.25,798.36) rotate(-73.38)" y="2.87" font-size="8.2" font-style="italic" text-anchor="middle" textLength="38.18" lengthAdjust="spacingAndGlyphs">HIST1H1D</text>
<text class="g" transform="translate(132.08,790.84) rotate(-67.85)" y="2.87" font-size="8.2" font-style="italic" text-anchor="middle" textLength="33.82" lengthAdjust="spacingAndGlyphs">MAB21L3</text>
<text class="g" transform="translate(119.42,787.3) rotate(-62.31)" y="2.87" font-size="8.2" font-style="italic" text-anchor="middle" textLength="37.84" lengthAdjust="spacingAndGlyphs">LINC01356</text>
<text class="g" transform="translate(108.56,780.05) rotate(-56.77)" y="2.87" font-size="8.2" font-style="italic" text-anchor="middle" textLength="41.84" lengthAdjust="spacingAndGlyphs">ANKRD18B</text>
<text class="g" transform="translate(99.59,770.48) rotate(-51.23)" y="2.87" font-size="8.2" font-style="italic" text-anchor="middle" textLength="39.83" lengthAdjust="spacingAndGlyphs">SERPINB9</text>
<text class="g" transform="translate(86.32,765.83) rotate(-45.69)" y="2.87" font-size="8.2" font-style="italic" text-anchor="middle" textLength="52.14" lengthAdjust="spacingAndGlyphs">Metazoa_SRP</text>
<text class="g" transform="translate(91.52,744.09) rotate(-40.15)" y="2.87" font-size="8.2" font-style="italic" text-anchor="middle">VGF</text>
<text class="g" transform="translate(66.28,747.58) rotate(-34.62)" y="2.87" font-size="8.2" font-style="italic" text-anchor="middle" textLength="49.15" lengthAdjust="spacingAndGlyphs">RP4−590F24.2</text>
<text class="g" transform="translate(69.79,730.06) rotate(-29.08)" y="2.87" font-size="8.2" font-style="italic" text-anchor="middle" textLength="34.54" lengthAdjust="spacingAndGlyphs">HIST1H4I</text>
<text class="g" transform="translate(58.04,721.63) rotate(-23.54)" y="2.87" font-size="8.2" font-style="italic" text-anchor="middle" textLength="40.12" lengthAdjust="spacingAndGlyphs">AC159540.1</text>
<text class="g" transform="translate(56.19,708.48) rotate(-18)" y="2.87" font-size="8.2" font-style="italic" text-anchor="middle" textLength="42.29" lengthAdjust="spacingAndGlyphs">ANKRD36C</text>
<text class="g" transform="translate(55.13,695.6) rotate(-12.46)" y="2.87" font-size="8.2" font-style="italic" text-anchor="middle" textLength="37.73" lengthAdjust="spacingAndGlyphs">HIST1H1B</text>
<text class="g" transform="translate(61.59,682.16) rotate(-6.92)" y="2.87" font-size="8.2" font-style="italic" text-anchor="middle">INHBA</text>
<text class="g" transform="translate(59.17,670.48) rotate(-1.38)" y="2.87" font-size="8.2" font-style="italic" text-anchor="middle" textLength="28.44" lengthAdjust="spacingAndGlyphs">SPINK5</text>
<text class="g" transform="translate(57.56,658.44) rotate(4.15)" y="2.87" font-size="8.2" font-style="italic" text-anchor="middle" textLength="32.54" lengthAdjust="spacingAndGlyphs">GUSBP3</text>
<text class="g" transform="translate(58.93,646.43) rotate(9.69)" y="2.87" font-size="8.2" font-style="italic" text-anchor="middle" textLength="32.54" lengthAdjust="spacingAndGlyphs">BCYRN1</text>
<text class="g" transform="translate(56.08,633.13) rotate(15.23)" y="2.87" font-size="8.2" font-style="italic" text-anchor="middle" textLength="44.11" lengthAdjust="spacingAndGlyphs">HIST1H2BG</text>
<text class="g" transform="translate(62.11,621.92) rotate(20.77)" y="2.87" font-size="8.2" font-style="italic" text-anchor="middle" textLength="37.84" lengthAdjust="spacingAndGlyphs">LINC00707</text>
<text class="g" transform="translate(67.72,610.85) rotate(26.31)" y="2.87" font-size="8.2" font-style="italic" text-anchor="middle" textLength="37.73" lengthAdjust="spacingAndGlyphs">HIST1H1E</text>
<text class="g" transform="translate(73.67,600.03) rotate(31.85)" y="2.87" font-size="8.2" font-style="italic" text-anchor="middle" textLength="37.73" lengthAdjust="spacingAndGlyphs">HIST1H4E</text>
<text class="g" transform="translate(85.76,593.73) rotate(37.38)" y="2.87" font-size="8.2" font-style="italic" text-anchor="middle" textLength="24.97" lengthAdjust="spacingAndGlyphs">GDF15</text>
<text class="g" transform="translate(79.41,571.82) rotate(42.92)" y="2.87" font-size="8.2" font-style="italic" text-anchor="middle" textLength="59.64" lengthAdjust="spacingAndGlyphs">LL22NC03−2H8.5</text>
<text class="g" transform="translate(97.35,571.61) rotate(48.46)" y="2.87" font-size="8.2" font-style="italic" text-anchor="middle" textLength="38.18" lengthAdjust="spacingAndGlyphs">HIST1H4H</text>
<text class="g" transform="translate(104.98,561.08) rotate(54)" y="2.87" font-size="8.2" font-style="italic" text-anchor="middle" textLength="40.12" lengthAdjust="spacingAndGlyphs">AC006276.1</text>
<text class="g" transform="translate(118.08,558.31) rotate(59.54)" y="2.87" font-size="8.2" font-style="italic" text-anchor="middle">MALAT1</text>
<text class="g" transform="translate(126.37,547.14) rotate(65.08)" y="2.87" font-size="8.2" font-style="italic" text-anchor="middle" textLength="37.84" lengthAdjust="spacingAndGlyphs">LINC00458</text>
<text class="g" transform="translate(134.89,532.76) rotate(70.62)" y="2.87" font-size="8.2" font-style="italic" text-anchor="middle" textLength="52.98" lengthAdjust="spacingAndGlyphs">RP5−1085F17.3</text>
<text class="g" transform="translate(150.16,537.11) rotate(76.15)" y="2.87" font-size="8.2" font-style="italic" text-anchor="middle" textLength="37.27" lengthAdjust="spacingAndGlyphs">HIST1H4F</text>
<text class="g" transform="translate(163.6,539.46) rotate(81.69)" y="2.87" font-size="8.2" font-style="italic" text-anchor="middle" textLength="26.61" lengthAdjust="spacingAndGlyphs">RN7SK</text>
<text class="g" transform="translate(176.15,540.43) rotate(87.23)" y="2.87" font-size="8.2" font-style="italic" text-anchor="middle">RYR2</text>
<g transform="translate(256.7,654.3) rotate(-7)"><path d="M0 0L7.2 -5.2L7.2 -2.1L20.5 -2.1L20.5 2.1L7.2 2.1L7.2 5.2Z" fill="#4daf4a"/></g>
<path d="M28.1 531.4V809.3" stroke="#333" stroke-width="1.3" fill="none"/>
<path d="M25.3 553.54H28.1M25.3 564.95H28.1M25.3 576.36H28.1M25.3 587.77H28.1M25.3 599.18H28.1M25.3 610.59H28.1M25.3 622H28.1M25.3 633.41H28.1M25.3 644.82H28.1M25.3 656.23H28.1M25.3 667.64H28.1" stroke="#333" stroke-width="1.0" fill="none"/>
<text x="23.5" y="557.25" font-size="10.3" text-anchor="end" fill="#000">6</text>
<text x="23.5" y="568.66" font-size="10.3" text-anchor="end" fill="#000">5</text>
<text x="23.5" y="580.07" font-size="10.3" text-anchor="end" fill="#000">4</text>
<text x="23.5" y="591.48" font-size="10.3" text-anchor="end" fill="#000">3</text>
<text x="23.5" y="602.89" font-size="10.3" text-anchor="end" fill="#000">2</text>
<text x="23.5" y="614.3" font-size="10.3" text-anchor="end" fill="#000">1</text>
<text x="23.5" y="625.71" font-size="10.3" text-anchor="end" fill="#000">0</text>
<text x="23.5" y="637.12" font-size="10.3" text-anchor="end" fill="#000">−1</text>
<text x="23.5" y="648.53" font-size="10.3" text-anchor="end" fill="#000">−2</text>
<text x="23.5" y="659.94" font-size="10.3" text-anchor="end" fill="#000">−3</text>
<text x="23.5" y="671.35" font-size="10.3" text-anchor="end" fill="#000">−4</text>
<text x="0" y="0" font-size="11.2" text-anchor="middle" transform="translate(8.4,616) rotate(-90)" fill="#000">Log2 fold change</text>
<text x="187.5" y="510.6" font-size="11.2" text-anchor="middle" fill="#000">iPSC</text>
<circle cx="266.5" cy="521.5" r="2.4" fill="#e41a1c"/>
<circle cx="266.5" cy="538.3" r="2.4" fill="#377eb8"/>
<text x="275.2" y="525.5" font-size="11.25" text-anchor="start" fill="#000">Del vs.Con</text>
<text x="275.2" y="542.3" font-size="11.25" text-anchor="start" fill="#000">Dup vs.Con</text>
<text x="193.7" y="861.7" font-size="11.55" text-anchor="middle" fill="#000">Overlapping DEGs of Del and Dup by Cuffdiff2</text>
<g fill="none" stroke="#e5e5e5" stroke-width="1.5">
<path d="M540.65 681L565.28 615.67L582.39 572.85M540.65 681L603 644.51L646.34 621.72M540.65 681L611.56 688.69L660.84 696.6M540.65 681L586.93 727.54L619.1 762.45M540.65 681L540.65 742.88L540.65 788.46M540.65 681L494.37 727.54L462.2 762.45M540.65 681L469.74 688.69L420.46 696.6M540.65 681L478.3 644.51L434.96 621.72M540.65 681L516.02 615.67L498.91 572.85"/>
<ellipse cx="540.65" cy="680.38" rx="12" ry="10.93"/>
<ellipse cx="540.65" cy="679.77" rx="24" ry="21.86"/>
<ellipse cx="540.65" cy="679.15" rx="36" ry="32.79"/>
<ellipse cx="540.65" cy="678.53" rx="48" ry="43.72"/>
<ellipse cx="540.65" cy="677.92" rx="60" ry="54.65"/>
<ellipse cx="540.65" cy="677.3" rx="72" ry="65.58"/>
<ellipse cx="540.65" cy="677.3" rx="84" ry="76.51"/>
<ellipse cx="540.65" cy="677.3" rx="96" ry="87.44"/>
<ellipse cx="540.65" cy="677.3" rx="108" ry="98.37"/>
<ellipse cx="540.65" cy="677.3" rx="122.04" ry="111.16"/>
</g>
<path d="M572.13 598.52L574.07 599.37L575.98 600.25L577.86 601.17L579.72 602.13L581.54 603.13L583.34 604.17L585.11 605.24L586.84 606.34L588.55 607.48L590.22 608.66L591.85 609.87L593.45 611.1L595.02 612.37L596.55 613.68L598.04 615.01L599.49 616.36L600.91 617.75L602.29 619.17L603.62 620.61L604.92 622.07L606.18 623.56L607.39 625.07L608.57 626.61L609.7 628.16L610.79 629.74L611.83 631.34L612.84 632.95L613.79 634.58L614.71 636.23L615.58 637.9L615.58 637.9L616.63 639.46L617.64 641.06L618.61 642.67L619.54 644.3L620.42 645.96L621.27 647.63L622.07 649.33L622.83 651.04L623.55 652.77L624.23 654.51L624.85 656.27L625.44 658.04L625.98 659.83L626.47 661.63L626.92 663.44L627.32 665.27L627.68 667.1L627.98 668.94L628.25 670.79L628.46 672.64L628.63 674.5L628.75 676.37L628.82 678.23L628.84 680.11L628.82 681.98L628.75 683.85L628.63 685.72L628.46 687.59L628.25 689.46L627.98 691.33L627.98 691.33L625.97 692.88L623.92 694.35L621.85 695.74L619.75 697.06L617.63 698.29L615.49 699.45L613.34 700.53L611.17 701.53L608.99 702.45L606.8 703.29L604.6 704.14L602.41 704.9L600.21 705.6L598.02 706.21L595.83 706.74L593.66 707.2L591.49 707.59L589.34 707.89L587.2 708.13L585.09 708.29L582.99 708.37L580.93 708.39L578.89 708.33L576.87 708.2L574.89 708.01L572.95 707.75L571.04 707.42L569.17 707.03L567.35 706.57L565.56 706.05L565.56 706.05L564.06 705.72L562.59 705.34L561.15 704.91L559.76 704.44L558.4 703.92L557.08 703.36L555.81 702.75L554.57 702.11L553.39 701.43L552.25 700.7L551.15 699.95L550.11 699.16L549.11 698.33L548.17 697.48L547.28 696.59L546.44 695.68L545.65 694.74L544.92 693.78L544.25 692.79L543.63 691.79L543.07 690.76L542.56 689.72L542.12 688.66L541.73 687.59L541.4 686.51L541.13 685.42L540.92 684.32L540.77 683.22L540.68 682.11L540.65 681L540.65 681L540.57 683.84L540.34 686.67L539.96 689.49L539.42 692.29L538.73 695.08L537.89 697.84L536.9 700.57L535.76 703.27L534.48 705.93L533.04 708.55L531.46 711.12L529.73 713.64L527.87 716.1L525.86 718.49L523.72 720.82L521.44 723.08L519.03 725.27L516.49 727.37L513.82 729.4L511.03 731.33L508.12 733.17L505.08 734.95L501.94 736.76L498.68 738.48L495.32 740.08L491.85 741.58L488.28 742.96L484.61 744.22L480.86 745.36L477.01 746.38L477.01 746.38L475.37 744.9L473.77 743.39L472.21 741.85L470.7 740.28L469.22 738.68L467.79 737.05L466.41 735.4L465.07 733.72L463.77 732.01L462.52 730.28L461.32 728.52L460.17 726.75L459.06 724.95L458 723.13L456.99 721.29L456.03 719.44L455.12 717.57L454.26 715.68L453.45 713.78L452.68 711.86L451.97 709.93L451.31 707.99L450.71 706.04L450.15 704.08L449.64 702.12L449.19 700.14L448.78 698.16L448.43 696.18L448.13 694.19L447.88 692.2L447.88 692.2L447.64 690.21L447.44 688.23L447.3 686.24L447.21 684.25L447.17 682.26L447.18 680.27L447.24 678.29L447.35 676.31L447.51 674.34L447.73 672.37L447.99 670.41L448.3 668.46L448.66 666.52L449.08 664.59L449.54 662.67L450.04 660.76L450.6 658.87L451.2 656.99L451.86 655.12L452.55 653.28L453.3 651.45L454.09 649.64L454.92 647.85L455.8 646.08L456.73 644.33L457.69 642.6L458.7 640.89L459.75 639.21L460.85 637.56L461.98 635.93L461.98 635.93L462.96 634.22L463.98 632.53L465.05 630.86L466.16 629.2L467.32 627.58L468.52 625.97L469.76 624.39L471.04 622.83L472.37 621.3L473.73 619.8L475.14 618.32L476.58 616.87L478.06 615.45L479.58 614.06L481.14 612.7L482.73 611.38L484.36 610.08L486.03 608.82L487.73 607.6L489.46 606.41L491.22 605.25L493.02 604.13L494.84 603.05L496.7 602.01L498.58 601L500.49 600.03L502.43 599.11L504.39 598.22L506.38 597.38L508.39 596.57Z" stroke="#b9b9b9" stroke-width="1.45" fill="none" stroke-linejoin="round"/>
<path d="M570.57 602.43L572.46 603.11L574.33 603.84L576.18 604.61L578.01 605.41L579.82 606.26L581.61 607.14L583.37 608.06L585.11 609.01L586.82 610.01L588.5 611.03L590.16 612.1L591.79 613.19L593.39 614.32L594.96 615.48L596.5 616.68L598 617.91L599.48 619.17L600.92 620.45L602.33 621.77L603.7 623.12L605.04 624.5L606.34 625.9L607.6 627.33L608.83 628.78L610.02 630.26L611.17 631.77L612.28 633.29L613.35 634.84L614.38 636.41L615.37 638.01L615.37 638.01L616.36 639.6L617.31 641.21L618.22 642.84L619.09 644.49L619.91 646.16L620.69 647.84L621.43 649.55L622.12 651.26L622.78 653L623.38 654.74L623.94 656.5L624.46 658.27L624.93 660.05L625.36 661.84L625.74 663.63L626.07 665.44L626.36 667.25L626.6 669.07L626.8 670.9L626.94 672.72L627.05 674.55L627.1 676.38L627.11 678.22L627.07 680.05L626.98 681.88L626.85 683.71L626.67 685.54L626.45 687.36L626.17 689.17L625.86 690.98L625.86 690.98L624.42 692.59L622.95 694.15L621.44 695.65L619.91 697.09L618.34 698.49L616.75 699.82L615.13 701.1L613.49 702.33L611.82 703.49L610.14 704.6L608.44 705.66L606.72 706.65L604.99 707.59L603.25 708.51L601.5 709.39L599.74 710.21L597.97 710.98L596.2 711.69L594.43 712.34L592.66 712.94L590.89 713.48L589.13 713.96L587.37 714.39L585.61 714.77L583.87 715.09L582.14 715.35L580.42 715.57L578.72 715.73L577.03 715.84L575.36 715.9L575.36 715.9L573.3 715.48L571.29 714.99L569.32 714.44L567.41 713.82L565.54 713.14L563.73 712.41L561.98 711.61L560.28 710.77L558.65 709.86L557.08 708.91L555.57 707.91L554.12 706.86L552.74 705.76L551.43 704.62L550.19 703.45L549.02 702.23L547.93 700.98L546.9 699.69L545.95 698.38L545.08 697.03L544.28 695.66L543.56 694.26L542.92 692.85L542.35 691.41L541.87 689.96L541.46 688.49L541.14 687.02L540.9 685.53L540.73 684.04L540.65 682.55L540.65 682.55L540.54 685.12L540.29 687.69L539.9 690.25L539.37 692.79L538.7 695.32L537.9 697.82L536.96 700.3L535.88 702.74L534.67 705.15L533.33 707.52L531.85 709.84L530.24 712.11L528.51 714.34L526.65 716.5L524.66 718.6L522.56 720.64L520.33 722.61L517.98 724.51L515.52 726.33L512.95 728.07L510.27 729.72L507.48 731.29L504.59 732.76L501.59 734.23L498.5 735.67L495.32 737L492.04 738.23L488.68 739.36L485.24 740.37L481.72 741.27L481.72 741.27L480.09 740.01L478.49 738.72L476.93 737.4L475.4 736.04L473.91 734.65L472.45 733.23L471.02 731.78L469.64 730.3L468.29 728.79L466.98 727.25L465.71 725.69L464.48 724.09L463.3 722.47L462.15 720.83L461.04 719.16L459.98 717.47L458.96 715.76L457.99 714.02L457.06 712.27L456.17 710.49L455.33 708.7L454.54 706.88L453.79 705.06L453.09 703.21L452.44 701.35L451.83 699.48L451.27 697.6L450.76 695.7L450.3 693.79L449.89 691.88L449.89 691.88L449.59 689.94L449.34 688L449.14 686.06L448.99 684.12L448.89 682.17L448.83 680.22L448.83 678.27L448.88 676.33L448.98 674.38L449.13 672.44L449.32 670.51L449.57 668.58L449.86 666.66L450.21 664.74L450.6 662.84L451.04 660.94L451.53 659.06L452.07 657.18L452.65 655.32L453.28 653.48L453.96 651.64L454.68 649.83L455.45 648.03L456.27 646.25L457.13 644.49L458.03 642.74L458.98 641.02L459.97 639.32L461.01 637.64L462.08 635.98L462.08 635.98L463.19 634.35L464.34 632.74L465.53 631.15L466.76 629.59L468.03 628.05L469.33 626.55L470.68 625.07L472.06 623.62L473.47 622.21L474.92 620.82L476.41 619.47L477.93 618.14L479.48 616.85L481.07 615.6L482.68 614.38L484.33 613.19L486 612.04L487.71 610.93L489.44 609.85L491.19 608.81L492.98 607.81L494.78 606.85L496.61 605.92L498.47 605.04L500.34 604.19L502.23 603.39L504.15 602.62L506.08 601.9L508.03 601.22L509.99 600.58Z" stroke="#b9b9b9" stroke-width="1.45" fill="none" stroke-linejoin="round"/>
<ellipse cx="540.8" cy="677.3" rx="65.6" ry="72.4" fill="none" stroke="#000" stroke-width="1.9" stroke-dasharray="7.5 5" transform="rotate(-90 540.8 677.3)"/>
<g fill="#e41a1c"><circle cx="572.13" cy="598.52" r="2.15"/><circle cx="615.58" cy="637.9" r="2.15"/><circle cx="627.98" cy="691.33" r="2.15"/><circle cx="565.56" cy="706.05" r="2.15"/><circle cx="540.6" cy="680.3" r="2.15"/><circle cx="477.01" cy="746.38" r="2.15"/><circle cx="447.88" cy="692.2" r="2.15"/><circle cx="461.98" cy="635.93" r="2.15"/><circle cx="508.39" cy="596.57" r="2.15"/></g>
<g fill="#377eb8"><circle cx="570.57" cy="602.43" r="2.15"/><circle cx="615.37" cy="638.01" r="2.15"/><circle cx="625.86" cy="690.98" r="2.15"/><circle cx="575.36" cy="715.9" r="2.15"/><circle cx="540.6" cy="682.4" r="2.15"/><circle cx="481.72" cy="741.27" r="2.15"/><circle cx="449.89" cy="691.88" r="2.15"/><circle cx="462.08" cy="635.98" r="2.15"/><circle cx="509.99" cy="600.58" r="2.15"/></g>
<text class="g" transform="translate(584.5,567.5) rotate(-68.22)" y="3.15" font-size="9" font-style="italic" text-anchor="middle">EEF1A2</text>
<text class="g" transform="translate(648.2,623.2) rotate(-27.74)" y="3.15" font-size="9" font-style="italic" text-anchor="middle">GRM4</text>
<text class="g" transform="translate(662.5,698.1) rotate(9.12)" y="3.15" font-size="9" font-style="italic" text-anchor="middle">RPLP1</text>
<text class="g" transform="translate(621.6,765.3) rotate(47.35)" y="3.15" font-size="9" font-style="italic" text-anchor="middle">SSTR1</text>
<text class="g" transform="translate(540,788.6) rotate(90)" y="3.15" font-size="9" font-style="italic" text-anchor="middle">OCIAD2</text>
<text class="g" transform="translate(457.8,766.3) rotate(-47.35)" y="3.15" font-size="9" font-style="italic" text-anchor="middle" textLength="33.52" lengthAdjust="spacingAndGlyphs">ATP2B2</text>
<text class="g" transform="translate(425,698.1) rotate(-9.12)" y="3.15" font-size="9" font-style="italic" text-anchor="middle" textLength="28.52" lengthAdjust="spacingAndGlyphs">LYNX1</text>
<text class="g" transform="translate(432.2,617.6) rotate(27.74)" y="3.15" font-size="9" font-style="italic" text-anchor="middle" textLength="40.02" lengthAdjust="spacingAndGlyphs">FAM19A5</text>
<text class="g" transform="translate(496.3,570.6) rotate(68.22)" y="3.15" font-size="9" font-style="italic" text-anchor="middle">ACTN3</text>
<path d="M407.3 531.5V808.5" stroke="#111" stroke-width="0.95" fill="none"/>
<path d="M404.1 584.18H407.3M404.1 595.12H407.3M404.1 606.06H407.3M404.1 617H407.3M404.1 627.94H407.3M404.1 638.88H407.3M404.1 649.82H407.3M404.1 660.76H407.3M404.1 671.7H407.3M404.1 682.64H407.3" stroke="#111" stroke-width="0.95" fill="none"/>
<text x="402.2" y="587.89" font-size="10.3" text-anchor="end" fill="#000">3</text>
<text x="402.2" y="598.83" font-size="10.3" text-anchor="end" fill="#000">2</text>
<text x="402.2" y="609.77" font-size="10.3" text-anchor="end" fill="#000">1</text>
<text x="402.2" y="620.71" font-size="10.3" text-anchor="end" fill="#000">0</text>
<text x="402.2" y="631.65" font-size="10.3" text-anchor="end" fill="#000">−1</text>
<text x="402.2" y="642.59" font-size="10.3" text-anchor="end" fill="#000">−2</text>
<text x="402.2" y="653.53" font-size="10.3" text-anchor="end" fill="#000">−3</text>
<text x="402.2" y="664.47" font-size="10.3" text-anchor="end" fill="#000">−4</text>
<text x="402.2" y="675.41" font-size="10.3" text-anchor="end" fill="#000">−5</text>
<text x="402.2" y="686.35" font-size="10.3" text-anchor="end" fill="#000">−6</text>
<text x="0" y="0" font-size="11.2" text-anchor="middle" transform="translate(383.6,616) rotate(-90)" fill="#000">Log2 fold change</text>
<text x="539.5" y="510.8" font-size="11.8" text-anchor="middle" fill="#000">iN</text>
<circle cx="601.5" cy="521.5" r="2.75" fill="#e41a1c"/>
<circle cx="601.5" cy="538" r="2.75" fill="#377eb8"/>
<text x="610.5" y="525.5" font-size="11.25" text-anchor="start" fill="#000">Del vs.Con</text>
<text x="610.5" y="542" font-size="11.25" text-anchor="start" fill="#000">Dup vs.Con</text>
<text x="544.9" y="862" font-size="11.58" text-anchor="middle" fill="#000">Overlapping DEGs of Del and Dup by Cuffdiff2</text>
<path d="M343 699.6H345" stroke="#111" stroke-width="1"/>
</svg></body></html>
